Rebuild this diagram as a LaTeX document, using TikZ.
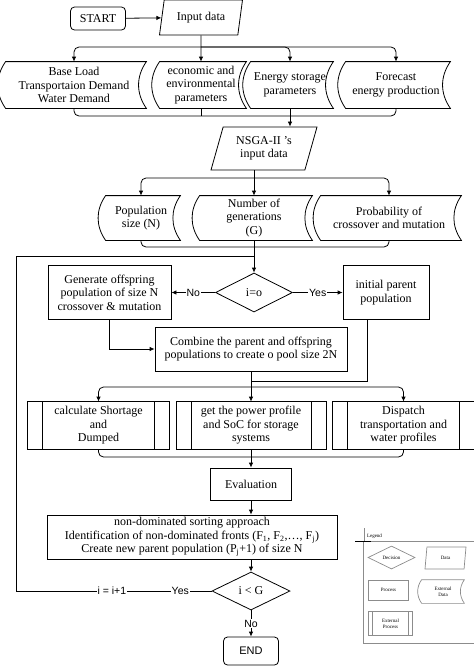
\documentclass[tikz,border=0pt]{standalone}
\usepackage{fontspec}
\setmainfont{Liberation Serif}
\setsansfont{Liberation Sans}
\usetikzlibrary{arrows.meta,positioning,shapes.geometric}

\begin{document}
\begin{tikzpicture}[
		x=1pt, y=-1pt,
		line width=0.8pt,
		font=\fontsize{12}{13.5}\selectfont,
		>={Latex[length=5pt,width=4.5pt]},
		action/.style={midway, fill=white, inner sep=1pt, font=\sffamily\fontsize{10.5}{12}\selectfont},
		terminal/.style={draw, rounded corners=4pt, minimum width=55pt, minimum height=23pt, inner sep=1pt},
		data/.style={draw, trapezium, trapezium left angle=70, trapezium right angle=110, trapezium stretches body, inner sep=1pt, align=center},
		extdata/.style={align=center, inner sep=1pt, minimum height=46pt},
		block/.style={draw, align=center, inner sep=2pt},
		subblock/.style={align=center, inner sep=1pt, minimum height=47pt},
		decision/.style={draw, diamond, inner sep=0pt, minimum width=77pt, minimum height=39pt},
		legend/.style={color=gray!90, text=black, line width=0.7pt, font=\fontsize{5}{6}\selectfont},
	]
		\useasboundingbox (0,0) rectangle (474,667);

		% inputs
		\node [terminal] (start) at (98,18.5) {START};
		\node [data, minimum width=83pt, minimum height=35pt] (input) at (201,17.5) {Input data};
		\node [extdata, minimum width=140pt] (load) at (74,85) {Base Load\\Transportaion Demand\\Water Demand};
		\node [extdata, minimum width=86pt] (econ) at (201,85) {economic and\\environmental\\parameters};
		\node [extdata, minimum width=82pt] (storage) at (290,85) {Energy storage\\parameters};
		\node [extdata, minimum width=104pt] (forecast) at (396,85) {Forecast\\energy production};

		\node [data, trapezium left angle=65, trapezium right angle=115, minimum width=106pt, minimum height=43pt] (nsga) at (264,148.5) {NSGA-II 's\\input data};
		\node [extdata, minimum width=74pt, minimum height=44pt] (popsize) at (141,218) {Population\\size (N)};
		\node [extdata, minimum width=112pt, minimum height=44pt] (gens) at (254,218) {Number of\\generations\\(G)};
		\node [extdata, minimum width=140pt, minimum height=44pt] (prob) at (389,218) {Probability of\\crossover and mutation};

		% main loop
		\node [decision] (first) at (254,292.5) {i=o};
		\node [block, minimum width=123pt, minimum height=54pt] (offspring) at (109.5,292.5) {Generate offspring\\population of size N\\crossover \& mutation};
		\node [block, minimum width=86pt, minimum height=54pt] (parent) at (386,292.5) {initial parent\\population};
		\node [block, minimum width=192pt, minimum height=44pt] (combine) at (251,349) {Combine the parent and offspring\\populations to create o pool size 2N};

		\node [subblock, minimum width=141pt] (shortage) at (98.5,425.5) {calculate Shortage\\and\\Dumped};
		\node [subblock, minimum width=149pt] (power) at (251,425.5) {get the power profile\\and SoC for storage\\systems};
		\node [subblock, minimum width=141pt] (dispatch) at (403.5,425.5) {Dispatch\\transportation and\\water profiles};

		\node [block, minimum width=81pt, minimum height=32pt] (eval) at (251,484) {Evaluation};
		\node [block, minimum width=290pt, minimum height=44pt] (sorting) at (192,537) {non-dominated sorting approach\\Identification of non-dominated fronts (F\textsubscript{1}, F\textsubscript{2},\dots, F\textsubscript{j})\\Create new parent population (P\textsubscript{j}+1) of size N};
		\node [decision, minimum width=78pt, minimum height=38pt] (last) at (251,591) {i < G};
		\node [terminal, font=\sffamily\fontsize{11}{13}\selectfont, minimum height=28pt] (end) at (251,651) {END};

		% outlines of the special shapes
		\foreach \n in {load,econ,storage,forecast,popsize,gens,prob}
			\draw ([xshift=2pt]\n.north west) to[bend right=35] ([xshift=2pt]\n.south west) -- ([xshift=2pt]\n.south east) to[bend left=35] ([xshift=2pt]\n.north east) -- cycle;
		\foreach \n in {shortage,power,dispatch}
			\draw (\n.north west) rectangle (\n.south east)
				([xshift=15pt]\n.north west) -- ([xshift=15pt]\n.south west)
				([xshift=-15pt]\n.north east) -- ([xshift=-15pt]\n.south east);

		% connectors
		\coordinate (split1) at (201,47);
		\coordinate (join1) at (0,116);
		\draw[->] (start) -- (input);
		\draw[->] (input.south) -- (econ);
		\draw[->, rounded corners=5pt] (split1) -| (load);
		\draw[->, rounded corners=5pt] (split1) -| (storage);
		\draw[->, rounded corners=5pt] (split1) -| (forecast);
		\draw[rounded corners=5pt] (load.south) |- (forecast.south |- join1) -- (forecast.south);
		\draw (econ.south) -- (econ.south |- join1);
		\draw[->] (storage.south) -- (storage.south |- nsga.north);

		\coordinate (split2) at (254,178);
		\coordinate (join2) at (0,247);
		\draw (split2 |- nsga.south) -- (split2);
		\draw[->] (split2) -- (gens);
		\draw[->, rounded corners=5pt] (split2) -| (popsize);
		\draw[->, rounded corners=5pt] (split2) -| (prob);
		\draw[rounded corners=5pt] (popsize.south) |- (prob.south |- join2) -- (prob.south);
		\draw[->] (gens.south) -- (first.north);

		\draw[->] (first) -- node[action] {No} (offspring);
		\draw[->] (first) -- node[action] {Yes} (parent);
		\draw[->] (offspring.south) |- (combine.west);

		\coordinate (join3) at (251,381);
		\coordinate (split3) at (251,387);
		\draw ([xshift=-19pt]parent.south) |- (join3);
		\draw (combine) -- (split3);
		\draw[->] (split3) -- (power);
		\draw[->, rounded corners=5pt] (split3) -| (shortage);
		\draw[->, rounded corners=5pt] (split3) -| (dispatch);

		\coordinate (join4) at (0,457);
		\draw[rounded corners=5pt] (shortage.south) |- (dispatch.south |- join4) -- (dispatch.south);
		\draw[->] (power.south) -- (eval.north);
		\draw[->] (eval.south) -- (eval.south |- sorting.north);
		\draw[->] (sorting.south -| last.north) -- (last.north);
		\draw[->] (last) -- node[action] {No} (end);

		% back to the start of the loop
		\coordinate (loopbottom) at (16,591);
		\coordinate (looptop) at (16,256);
		\draw (last.west) -- node[action, pos=0.16] {Yes} node[action, pos=0.51] {i = i+1} (loopbottom) -- (looptop) -- (gens.south |- looptop);

		% legend
		\node [legend, draw, minimum width=111pt, minimum height=102pt] (legendbox) at (418.5,592) {};
		\node [legend, inner sep=1pt, above right=1pt and 3pt of legendbox.north west] (legendtitle) {Legend};
		\draw[legend, color=black] (355,541) -- (371,541);
		\draw[legend] (364,528) -- (364,541);
		\node [legend, decision, minimum width=47pt, minimum height=23pt] (ldecision) at (391.5,557.5) {Decision};
		\node [legend, data, minimum width=41pt, minimum height=22pt] (ldata) at (445.5,558) {Data};
		\node [legend, block, minimum width=40pt, minimum height=20pt] (lprocess) at (388.5,590) {Process};
		\node [legend, extdata, minimum width=42pt, minimum height=23pt] (lexternal) at (443,591.5) {External\\Data};
		\node [legend, subblock, minimum width=43pt, minimum height=23pt] (lsubprocess) at (390.5,623.5) {External\\Process};
		\draw[legend] (lexternal.north west) to[bend right=35] (lexternal.south west) -- (lexternal.south east) to[bend left=35] (lexternal.north east) -- cycle;
		\draw[legend] (lsubprocess.north west) rectangle (lsubprocess.south east)
			([xshift=4pt]lsubprocess.north west) -- ([xshift=4pt]lsubprocess.south west)
			([xshift=-4pt]lsubprocess.north east) -- ([xshift=-4pt]lsubprocess.south east);
	\end{tikzpicture}
\end{document}
